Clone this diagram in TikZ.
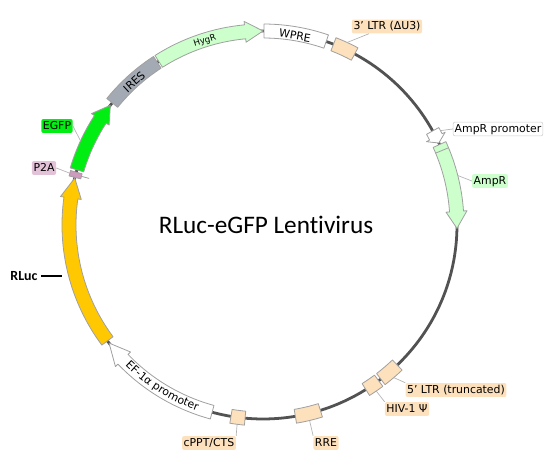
\documentclass[tikz,border=0pt]{standalone}
\usepackage{fontspec}
\setmainfont[Ligatures=ResetAll]{DejaVu Sans}
\newfontfamily\titlefont[Ligatures=NoCommon]{Carlito}
\usetikzlibrary{decorations.text}
\definecolor{ltrfill}{HTML}{FDE0BC}
\definecolor{resfill}{HTML}{CCFFCC}
\definecolor{gfpfill}{HTML}{00EE11}
\definecolor{lucfill}{HTML}{FFC800}
\definecolor{iresfill}{HTML}{A3AAB3}
\definecolor{pepfill}{HTML}{CF9ABD}
\definecolor{edgegray}{HTML}{A0A0A0}
\tikzset{
      feature/.style={draw=edgegray, line width=0.6pt, line join=round},
      tag/.style={
        rounded corners=1.5pt,
        font=\fontsize{8.2}{9}\selectfont,
        inner sep=1.2pt,
        text height=6.5pt,
        text depth=1.6pt
      },
      onarc/.style={inner sep=0pt, font=\fontsize{8.2}{9}\selectfont},
      leader/.style={draw=black!30, line width=0.5pt}
    }
\newcommand{\arcbox}[5][7]{%
  \draw[feature, fill=#2] (#3:{194-#1}) arc[start angle=#3, end angle=#4, radius={194-#1}]
    -- (#4:{194+#1}) arc[start angle=#4, end angle=#3, radius={194+#1}] -- cycle;
  \coordinate (#5) at ({(#3+#4)/2}:{194+#1});
}
\newcommand{\arcarrow}[5]{%
  \draw[feature, fill=#1] (#2:187) arc[start angle=#2, end angle=#3, radius=187]
    -- (#3:183.5) -- (#4:194) -- (#3:204.5) -- (#3:201)
    arc[start angle=#3, end angle=#2, radius=201] -- cycle;
  \coordinate (#5) at ({(#2+#3)/2}:201);
}

\begin{document}
\begin{tikzpicture}[x=0.02646cm,y=0.02646cm]
    \useasboundingbox (-263,225) rectangle (288,-245);
    \draw[line width=2.1pt, color=black!68] (0:194) arc[start angle=0, end angle=360, radius=194];

    \arcarrow{resfill}{24.5}{4}{-1}{amprf}
    \draw[feature] (22.6:187) -- (22.6:201);
    \arcarrow{white}{29}{27}{25}{pampf}
    \arcbox{ltrfill}{68.7}{61.8}{ltrthreef}
    \arcbox{white}{89.7}{71}{wpref}
    \arcarrow{resfill}{122.5}{95.3}{90}{hygrf}
    \arcbox{iresfill}{141}{123}{iresf}
    \arcarrow{gfpfill}{163.5}{147}{141.9}{egfpf}
    \draw[feature] (165:180) -- (165:194);
    \arcbox[6]{pepfill}{165.8}{164.2}{ptwoaf}
    \arcarrow{lucfill}{216.7}{172}{166}{rlucf}
    \arcarrow{white}{254.8}{223.8}{217.5}{efpromf}
    \arcbox{ltrfill}{264.7}{260.5}{cpptf}
    \arcbox{ltrfill}{287.2}{279.6}{rref}
    \arcbox{ltrfill}{306.6}{302}{psif}
    \arcbox{ltrfill}{313.8}{307.4}{ltrfivef}

    \node[onarc, rotate=-9.6] (wpre) at (80.4:192) {WPRE};
    \node[onarc, rotate=17.5, font=\fontsize{6.5}{8}\selectfont] (hygr) at (107.5:193) {HygR};
    \node[onarc, rotate=42] (ires) at (132:192.6) {IRES};
    \path[decorate, decoration={text along path, text align=center,
      text={|\fontsize{8.2}{9}\selectfont|EF-1α promoter}}]
      (223:197) arc[start angle=223, end angle=253, radius=197];

    \node[font=\titlefont\fontsize{19}{22}\selectfont] (title) at (3,0) {RLuc-eGFP Lentivirus};

    \node[tag, fill=ltrfill] (ltrthree) at (124,198.5) {3' LTR (ΔU3)};
    \node[tag, fill=white, draw=black!20] (pamp) at (235,96) {AmpR promoter};
    \node[tag, fill=resfill] (ampr) at (227,44) {AmpR};
    \node[tag, fill=gfpfill] (egfp) at (-206,99) {EGFP};
    \node[tag, fill=pepfill!60] (ptwoa) at (-219,57) {P2A};
    \node[tag, fill=ltrfill] (cppt) at (-54,-218) {cPPT/CTS};
    \node[tag, fill=ltrfill] (rre) at (63,-218) {RRE};
    \node[tag, fill=ltrfill] (psi) at (144,-184) {HIV-1 Ψ};
    \node[tag, fill=ltrfill] (ltrfive) at (193,-165) {5' LTR (truncated)};
    \node[font=\titlefont\bfseries\fontsize{10.5}{12}\selectfont, inner sep=0pt] (rluc) at (-239,-51) {RLuc};
    \coordinate (rlucend) at (-201,-51);

    \draw[leader] (ltrthreef) -- (ltrthree);
    \draw[leader] (pampf) -- (pamp.west);
    \draw[leader] (amprf) -- (ampr.west);
    \draw[leader] (egfpf) -- (egfp.east);
    \draw[leader] (ptwoaf) -- (ptwoa.east);
    \draw[leader] (cpptf) -- (cppt.north east);
    \draw[leader] (rref) -- (rre.north west);
    \draw[leader] (psif) -- (psi.north west);
    \draw[leader] (ltrfivef) -- (ltrfive.north west);
    \draw[line width=1.5pt, color=black] (rluc.east |- rlucend) ++(3,0) -- (rlucend);
    \end{tikzpicture}
\end{document}
